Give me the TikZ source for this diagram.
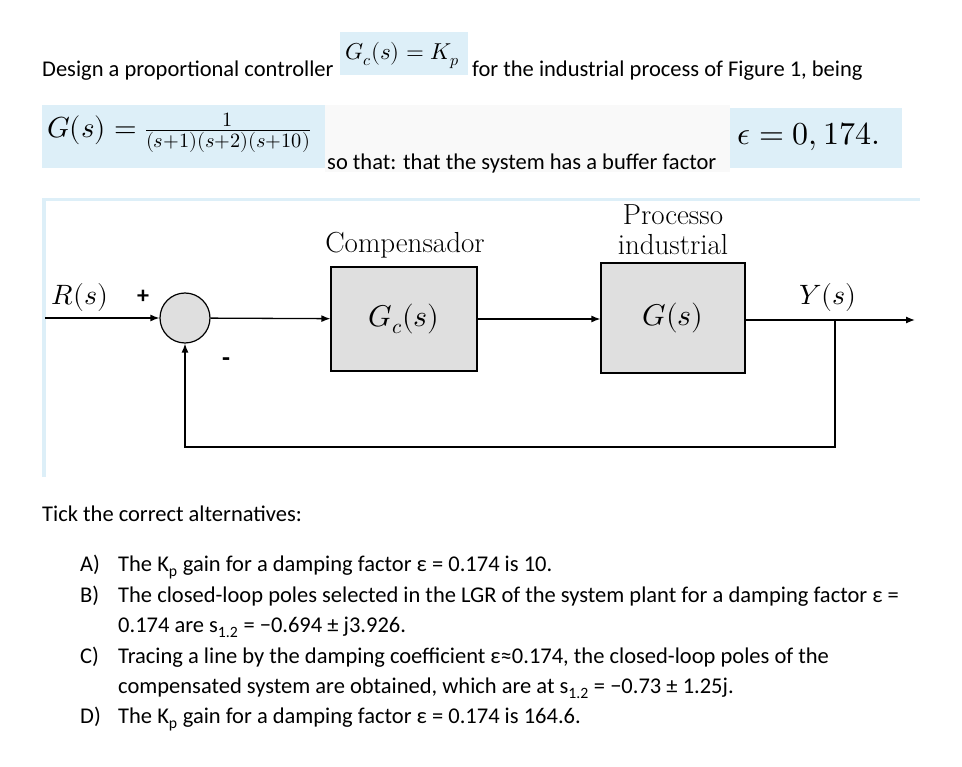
\documentclass[tikz,border=0pt]{standalone}
\usepackage{fontspec}
\setmainfont{Carlito}
\newfontfamily\lmr{Latin Modern Roman}
\usepackage{unicode-math}
\setmathfont{Latin Modern Math}
\usetikzlibrary{arrows.meta}
\definecolor{lb}{HTML}{DDEFF8}
\begin{document}
\begin{tikzpicture}[x=1pt,y=-1pt,
  txt/.style={anchor=base west,inner sep=0,font=\fontsize{22.5}{26}\selectfont},
  blk/.style={draw,line width=1.2pt,fill=gray!25,minimum width=146pt,minimum height=104pt},
  sig/.style={line width=1.3pt,-{Latex[length=9pt,width=7pt]}},
  lbl/.style={font=\fontsize{28}{30}\selectfont\lmr,inner sep=0}]
\useasboundingbox (0,0) rectangle (962,767);
% top line
\fill[lb] (340,32) rectangle (468,75);
\node[anchor=base west,inner sep=0] (gc) at (345,60) {\fontsize{23}{24}\selectfont$G_c(s)=K_p$};
\node[txt] (t1) at (42,77) {Design a proportional controller};
\node[txt] (t2) at (472,77) {for the industrial process of Figure 1, being};
% second line
\fill[lb] (42,105) rectangle (325,168);
\fill[gray!5] (325,105) rectangle (730,172);
\fill[lb] (730,108) rectangle (902,168);
\node[anchor=west,inner sep=0] (gs) at (47,133) {\fontsize{29}{30}\selectfont$G(s)=\frac{1}{(s+1)(s+2)(s+10)}$};
\node[txt] (t3) at (327,170) {so that: that the system has a buffer factor};
\node[anchor=base west,inner sep=0] (eps) at (737,145) {\fontsize{32}{34}\selectfont$\epsilon=0,174.$};
% frame
\draw[lb,line width=3pt] (42,200) -- (920,200);
\draw[lb,line width=4pt] (44,200) -- (44,477);
% block diagram
\node[circle,draw,line width=1.2pt,fill=gray!25,minimum size=50pt,inner sep=0] (sum) at (185,318) {};
\node[blk] (C) at (404,319) {};
\node[lbl,font=\fontsize{30}{32}\selectfont] at (C) {$G_c(s)$};
\node[blk,minimum width=144pt,minimum height=110pt] (P) at (673,318) {};
\node[lbl,font=\fontsize{30}{32}\selectfont] at (P) {$G(s)$};
\node[lbl,font=\fontsize{29}{31}\selectfont\lmr] (cl) at (405,245) {Compensador};
\node[lbl,font=\fontsize{29}{30}\selectfont\lmr,align=center] (pl) at (673,230) {Processo\\industrial};
\coordinate (rin) at (45,318);
\coordinate (yout) at (915,320);
\coordinate (tap) at (835,320);
\coordinate (fb) at (835,447);
\draw[sig] (rin) -- (sum);
\draw[sig] (sum) -- (C);
\draw[sig] (C.east) -- (P.west |- C.east);
\draw[sig] (P.east |- yout) -- (yout);
\draw[sig] (tap) -- (fb) -- (sum.south |- fb) -- (sum.south);
\node[lbl] (r) at (80,298) {$R(s)$};
\node[font=\bfseries\fontsize{24}{26}\selectfont,inner sep=0] (pls) at (143,297) {+};
\node[font=\bfseries\fontsize{26}{26}\selectfont,inner sep=0] (mns) at (226,362) {-};
\node[lbl] (y) at (828,298) {$Y(s)$};
% questions
\node[txt] (q) at (42,521) {Tick the correct alternatives:};
\node[txt] (a1) at (80,571) {A)};
\node[txt] (a2) at (118,571) {The K\textsubscript{p} gain for a damping factor ε = 0.174 is 10.};
\node[txt] (b1) at (80,602) {B)};
\node[txt] (b2) at (118,602) {The closed-loop poles selected in the LGR of the system plant for a damping factor ε =};
\node[txt] (b3) at (118,632) {0.174 are s\textsubscript{1.2} = −0.694 ± j3.926.};
\node[txt] (c1) at (80,663) {C)};
\node[txt] (c2) at (118,663) {Tracing a line by the damping coefficient ε≈0.174, the closed-loop poles of the};
\node[txt] (c3) at (118,693) {compensated system are obtained, which are at s\textsubscript{1.2} = −0.73 ± 1.25j.};
\node[txt] (d1) at (80,723) {D)};
\node[txt] (d2) at (118,723) {The K\textsubscript{p} gain for a damping factor ε = 0.174 is 164.6.};
\end{tikzpicture}
\end{document}
